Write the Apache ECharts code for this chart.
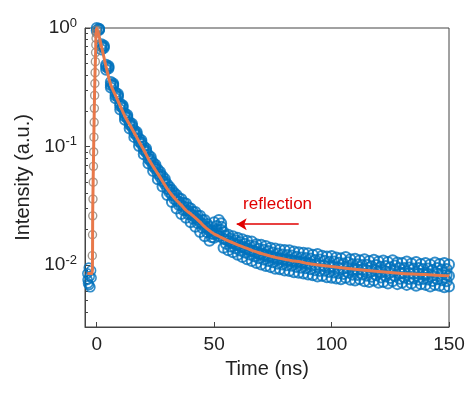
<!DOCTYPE html>
<html><head><meta charset="utf-8">
<script src="https://cdn.jsdelivr.net/npm/echarts@6/dist/echarts.min.js"></script>
<style>html,body{margin:0;padding:0;background:#fff}#c{width:474px;height:401px}</style>
</head><body><div id="c"></div>
<script>
const curveT = [-4,-2,-1.7,-1.3,-0.9,-0.5,0,2,4,6,8,10,12,14,16,18,20,22,24,26,28,30,32,34,36,38,40,42,44,46,48,50,52,54,56,58,60,62,64,66,68,70,72,74,76,78,80,82,84,86,88,90,100,110,120,130,140,150];
const curveY = [0.0085,0.0085,0.03,0.1,0.3,0.6,1,0.7,0.47,0.33,0.27,0.22,0.18,0.153,0.13,0.11,0.094,0.079,0.068,0.059,0.051,0.044,0.039,0.035,0.032,0.029,0.027,0.025,0.023,0.021,0.0195,0.0183,0.0175,0.0167,0.016,0.0154,0.0148,0.0143,0.0138,0.0133,0.0129,0.0125,0.0122,0.0119,0.0116,0.0114,0.0112,0.011,0.0108,0.0107,0.0105,0.0103,0.0097,0.0092,0.0088,0.0085,0.0083,0.0081];
const bandT = [0,2,4,6,8,10,12,14,16,18,20,22,24,26,28,30,32,34,36,38,40,42,44,46,48,50,52,54,56,58,60,62,64,66,68,70,72,74,76,78,80,82,84,86,88,90,92,94,96,98,100,102,104,106,108,110,112,114,116,118,120,122,124,126,128,130,132,134,136,138,140,142,144,146,148,150];
const bandHi = [1.0,0.73,0.49,0.35,0.285,0.23,0.19,0.16,0.137,0.117,0.1,0.085,0.073,0.064,0.056,0.048,0.043,0.039,0.036,0.033,0.030,0.028,0.026,0.024,0.021,0.023,0.024,0.019,0.018,0.0175,0.017,0.0165,0.016,0.0158,0.015,0.0148,0.0145,0.014,0.0138,0.0135,0.0134,0.0133,0.013,0.0128,0.0127,0.0126,0.0122,0.0124,0.012,0.0118,0.0119,0.0116,0.0114,0.0117,0.0112,0.0113,0.011,0.0112,0.0108,0.0111,0.0107,0.0109,0.0106,0.011,0.0105,0.0104,0.0107,0.0103,0.0106,0.0102,0.0104,0.0101,0.0105,0.0102,0.0104,0.0101];
const bandLo = [0.95,0.66,0.445,0.315,0.255,0.205,0.168,0.142,0.12,0.101,0.086,0.072,0.062,0.053,0.046,0.039,0.034,0.030,0.027,0.025,0.023,0.021,0.019,0.0175,0.016,0.017,0.0185,0.014,0.0133,0.0128,0.0122,0.0117,0.0112,0.0108,0.0104,0.0101,0.0098,0.0096,0.0093,0.0092,0.009,0.0089,0.0087,0.0086,0.0085,0.0083,0.0082,0.008,0.0081,0.0079,0.0078,0.0077,0.0076,0.0078,0.0075,0.0074,0.0076,0.0073,0.0072,0.0074,0.0071,0.0072,0.007,0.0073,0.0069,0.0071,0.0068,0.0070,0.0067,0.0069,0.0068,0.0066,0.0068,0.0067,0.0065,0.0066];
const baseT = [-4,-3.9,-3.7,-3.4,-3.2,-3,-2.7,-2.4,-2.2];
const baseY = [0.0085,0.0075,0.007,0.0095,0.0068,0.008,0.0065,0.009,0.0078];
const riseT = [-1.9,-1.8,-1.7,-1.6,-1.5,-1.4,-1.3,-1.2,-1.1,-1,-0.9,-0.8,-0.7,-0.6,-0.5,-0.4,-0.3,-0.2,-0.1];
const riseY = [0.012,0.018,0.026,0.036,0.05,0.068,0.09,0.12,0.16,0.21,0.27,0.34,0.42,0.52,0.62,0.72,0.82,0.9,0.96];
const yTicks = {1:'0', 0.1:'-1', 0.01:'-2'};

const zip = (a,b)=>a.map((v,i)=>[v,b[i]]);
const blue = '#0072BD';
const sc = (d,sz,col,bw)=>({type:'scatter',data:d,symbolSize:sz,silent:true,
  itemStyle:{color:'rgba(0,0,0,0)',borderColor:col,borderWidth:bw}});
const gm = (a,b)=>Math.sqrt(a*b);
const midData = bandT.map((t,i)=>[t+1,gm(bandHi[i],bandLo[i])]);
const qHi = bandT.map((t,i)=>[t+1,gm(bandHi[i],gm(bandHi[i],bandLo[i]))]);
const qLo = bandT.map((t,i)=>[t+1,gm(bandLo[i],gm(bandHi[i],bandLo[i]))]);
const ch = echarts.init(document.getElementById('c'));
const aline = {onZero:false,lineStyle:{color:'#444'}};
const F = 'Liberation Sans';
ch.setOption({
  animation:false,
  grid:{left:85,right:25,top:28,bottom:74,show:true,borderColor:'#444',borderWidth:1},
  xAxis:{type:'value',min:-5,max:150,interval:50,name:'Time (ns)',nameLocation:'middle',nameGap:32,
    nameTextStyle:{fontSize:20,color:'#222',fontFamily:F},axisLine:aline,splitLine:{show:false},
    axisLabel:{fontSize:19,color:'#222',fontFamily:F,customValues:[0,50,100,150]},
    axisTick:{inside:true,customValues:[0,50,100,150],lineStyle:{color:'#444'}}},
  yAxis:{type:'log',min:0.003,max:1,name:'Intensity (a.u.)',nameLocation:'middle',nameGap:52,
    nameTextStyle:{fontSize:20,color:'#222',fontFamily:F},axisLine:aline,splitLine:{show:false},
    axisTick:{inside:true,lineStyle:{color:'#444'}},
    minorTick:{show:true,splitNumber:9,length:3,lineStyle:{color:'#444'}},
    axisLabel:{customValues:[0.01,0.1,1],formatter:v=>{const k=Object.keys(yTicks).find(x=>Math.abs(x-v)<v*1e-6);return k?'{b|10}{s|'+yTicks[k]+'}':'';},
      rich:{b:{fontSize:19,color:'#222',fontFamily:F},s:{fontSize:13,color:'#222',verticalAlign:'top',padding:[0,0,10,0],fontFamily:F}}}},
  series:[
    sc(zip(baseT,baseY),9,blue,1.6),
    sc(zip(bandT,bandHi),10,blue,2),
    sc(zip(bandT,bandLo),10,blue,2),
    sc(midData,10,blue,2),
    sc(qHi,10,blue,2),
    sc(qLo,10,blue,2),
    sc(zip(curveT.slice(7),curveY.slice(7)),10,blue,2),
    sc(zip(riseT,riseY),8,'#8a7f75',1.4),
    {type:'line',data:zip(curveT,curveY),showSymbol:false,smooth:0.3,silent:true,
     lineStyle:{color:'#E8784A',width:3},
     markLine:{silent:true,symbol:['arrow','none'],symbolSize:[9,10],lineStyle:{color:'#E00000',width:1.5,type:'solid'},label:{show:false},
       data:[[{coord:[59.6,0.0221]},{coord:[86,0.0221]}]]}}
  ]
});
const p = ch.convertToPixel({gridIndex:0},[77,0.0326]);
ch.setOption({graphic:[{type:'text',x:p[0],y:p[1],style:{text:'reflection',fill:'#E00000',font:'17px "Liberation Sans"',textAlign:'center',textVerticalAlign:'middle'}}]});
</script></body></html>
